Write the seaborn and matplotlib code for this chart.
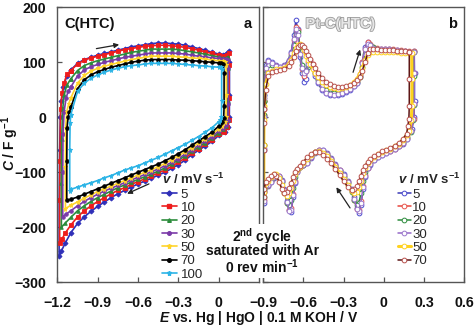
import matplotlib
matplotlib.use("Agg")
import matplotlib.pyplot as plt
import matplotlib.patheffects as pe
from matplotlib.lines import Line2D
import pandas as pd
import seaborn as sns

# ---------------- Panel a : C(HTC) ----------------
RATES_A = [5, 10, 20, 30, 50, 70, 100]
COLORS_A = ["#2f2fb8", "#ee1c1c", "#2c8c3c", "#7a3aa8", "#ffd42a", "#000000", "#2cb4e6"]
MARKERS_A = ["D", "s", "^", "o", "*", "o", "*"]

A_ANO_E = [-1.10, -1.05, -1.00, -0.95, -0.90, -0.85, -0.80, -0.75, -0.70, -0.65, -0.60, -0.55,
           -0.50, -0.45, -0.40, -0.35, -0.30, -0.25, -0.20, -0.15, -0.10, -0.05, 0.00]
A_CAT_E = A_ANO_E[::-1]

A_ANO_C = {
    5:   [86, 98, 105, 109, 113, 116, 119, 122, 125, 128, 130, 132, 134, 135, 135, 134, 133, 131, 128, 125, 122, 118, 115],
    10:  [85, 97, 104, 108, 111, 114, 117, 120, 123, 125, 127, 129, 130, 131, 131, 130, 129, 127, 125, 122, 119, 116, 113],
    20:  [70, 85, 94, 99, 103, 106, 109, 112, 115, 118, 120, 122, 124, 124, 124, 124, 123, 121, 119, 117, 115, 112, 110],
    30:  [55, 75, 86, 92, 96, 100, 103, 106, 109, 111, 113, 115, 117, 117, 117, 117, 116, 115, 113, 111, 110, 108, 107],
    50:  [35, 62, 76, 84, 89, 93, 96, 99, 102, 105, 107, 109, 111, 111, 111, 111, 110, 109, 108, 107, 106, 104, 103],
    70:  [18, 52, 68, 77, 83, 87, 91, 94, 97, 100, 102, 104, 105, 105, 105, 105, 104, 104, 103, 102, 101, 100, 99],
    100: [5, 47, 62, 71, 77, 82, 86, 89, 92, 94, 95, 97, 98, 98, 98, 98, 97, 96, 95, 94, 93, 92, 91],
}
A_CAT_C = {
    5:   [-33, -44, -52, -60, -68, -78, -86, -93, -100, -105, -111, -116, -121, -127, -133, -139, -146, -154, -162, -171, -181, -193, -210],
    10:  [-30, -41, -49, -57, -65, -74, -82, -89, -96, -101, -107, -112, -117, -122, -128, -133, -139, -146, -153, -161, -170, -181, -196],
    20:  [-28, -38, -46, -54, -62, -70, -78, -85, -92, -98, -103, -108, -113, -118, -123, -128, -134, -140, -146, -153, -161, -170, -182],
    30:  [-25, -35, -43, -51, -59, -67, -75, -82, -88, -94, -99, -104, -109, -114, -119, -124, -129, -134, -140, -146, -153, -161, -170],
    50:  [-21, -31, -39, -47, -55, -63, -70, -77, -84, -90, -95, -100, -105, -110, -115, -120, -125, -130, -135, -141, -147, -154, -160],
    70:  [-16, -27, -35, -43, -51, -59, -66, -73, -79, -85, -90, -95, -100, -105, -110, -115, -120, -125, -130, -135, -140, -145, -149],
    100: [-8, -19, -27, -35, -42, -49, -55, -61, -67, -73, -78, -83, -88, -92, -96, -101, -106, -110, -115, -119, -123, -127, -131],
}
# right turn (top corner, vertical, start of cathodic scan)
A_RIGHT_E = {
    5:   [0.03, 0.06, 0.075, 0.08, 0.08, 0.079, 0.07, 0.05],
    10:  [0.03, 0.06, 0.075, 0.078, 0.078, 0.076, 0.065, 0.04],
    20:  [0.03, 0.055, 0.068, 0.07, 0.07, 0.066, 0.055, 0.03],
    30:  [0.03, 0.055, 0.07, 0.072, 0.072, 0.068, 0.055, 0.03],
    50:  [0.03, 0.05, 0.055, 0.056, 0.054, 0.045, 0.025],
    70:  [0.02, 0.035, 0.04, 0.04, 0.037, 0.025, 0.01],
    100: [0.015, 0.022, 0.022, 0.02, 0.012],
}
A_RIGHT_C = {
    5:   [114, 117, 121, 100, 40, 0, -18, -26],
    10:  [112, 113, 116, 95, 35, -5, -18, -26],
    20:  [108, 108, 110, 90, 30, -5, -15, -22],
    30:  [106, 106, 105, 90, 25, -5, -14, -20],
    50:  [102, 101, 95, 40, 0, -8, -15],
    70:  [98, 97, 80, 20, -2, -8, -12],
    100: [91, 88, 30, 0, -5],
}
# left turn (end of cathodic scan, corner, vertical rise)
A_LEFT_E = {
    5:   [-1.14, -1.17, -1.187, -1.186, -1.183, -1.178, -1.17, -1.155, -1.13],
    10:  [-1.14, -1.165, -1.183, -1.183, -1.181, -1.176, -1.165, -1.15, -1.13],
    20:  [-1.14, -1.17, -1.17, -1.168, -1.16, -1.15, -1.13],
    30:  [-1.135, -1.16, -1.16, -1.158, -1.15, -1.135, -1.12],
    50:  [-1.14, -1.14, -1.138, -1.13, -1.115],
    70:  [-1.13, -1.13, -1.128, -1.12, -1.11],
    100: [-1.108, -1.108, -1.105],
}
A_LEFT_C = {
    5:   [-228, -243, -253, -150, -60, 0, 30, 55, 75],
    10:  [-210, -221, -229, -150, -80, 15, 45, 62, 78],
    20:  [-192, -200, -120, -40, 15, 40, 58],
    30:  [-176, -181, -100, -30, 10, 35, 47],
    50:  [-166, -90, -20, 10, 25],
    70:  [-151, -80, -20, 0, 10],
    100: [-134, -60, -10],
}

# ---------------- Panel b : Pt-C(HTC) ----------------
RATES_B = [5, 10, 20, 30, 50, 70]
COLORS_B = ["#3a3ab8", "#e8453c", "#2c8c3c", "#9468c8", "#ffd21f", "#5e1616"]
EDGES_B = ["#4a4ad0", "#e8554c", "#2c8c3c", "#9a78cc", "#ffd21f", "#b8504c"]

B_ANO_E = [-0.89, -0.88, -0.86, -0.83, -0.80, -0.77, -0.74, -0.71, -0.69, -0.67, -0.655, -0.64,
           -0.625, -0.61, -0.595, -0.58, -0.565, -0.55, -0.53, -0.51, -0.49, -0.46, -0.43, -0.40,
           -0.37, -0.34, -0.31, -0.28, -0.25, -0.22, -0.20, -0.18, -0.16, -0.14, -0.12, -0.10,
           -0.08, -0.05, -0.02, 0.01, 0.04, 0.07, 0.10, 0.13, 0.16, 0.19]
B_ANO_C = {
    5:  [40, 95, 105, 100, 95, 92, 95, 105, 118, 150, 176, 160, 110, 80, 65, 70, 92, 98, 90, 75, 62, 50, 44,
         41, 40, 41, 43, 46, 50, 56, 62, 75, 100, 128, 136, 130, 126, 124, 124, 124, 124, 123, 122, 121, 120, 119],
    10: [30, 85, 100, 97, 93, 90, 93, 102, 115, 140, 165, 158, 120, 88, 75, 85, 100, 104, 96, 82, 70, 58, 51,
         48, 47, 47, 49, 51, 54, 60, 66, 78, 100, 125, 137, 133, 128, 126, 125, 125, 125, 124, 123, 122, 121, 120],
    20: [30, 80, 95, 95, 92, 90, 92, 100, 112, 132, 152, 155, 128, 95, 82, 86, 95, 98, 92, 80, 68, 56, 49,
         45, 44, 45, 47, 50, 54, 59, 64, 74, 92, 115, 130, 132, 127, 124, 123, 123, 123, 122, 121, 120, 119, 118],
    30: [35, 90, 103, 98, 94, 91, 93, 103, 116, 142, 160, 150, 115, 90, 80, 84, 96, 100, 92, 78, 64, 52, 45,
         42, 41, 42, 44, 47, 51, 57, 63, 76, 98, 124, 134, 131, 126, 124, 124, 124, 124, 123, 122, 121, 120, 119],
    50: [20, 60, 80, 85, 87, 88, 90, 96, 104, 116, 126, 132, 134, 130, 122, 112, 104, 97, 88, 80, 73, 65, 59,
         55, 53, 52, 53, 55, 58, 64, 70, 78, 90, 104, 114, 118, 119, 119, 119, 119, 119, 118, 118, 117, 117, 116],
    70: [15, 50, 75, 82, 85, 86, 88, 93, 100, 110, 120, 127, 131, 132, 128, 121, 113, 106, 97, 89, 81, 72, 65,
         60, 57, 55, 55, 56, 58, 62, 67, 74, 85, 100, 116, 124, 125, 124, 123, 123, 122, 122, 121, 120, 120, 119],
}
B_CAT_E = [0.17, 0.14, 0.11, 0.08, 0.05, 0.02, -0.01, -0.04, -0.07, -0.10, -0.12, -0.14, -0.155, -0.17,
           -0.185, -0.20, -0.22, -0.24, -0.27, -0.30, -0.33, -0.36, -0.39, -0.42, -0.45, -0.48, -0.51,
           -0.54, -0.57, -0.60, -0.625, -0.645, -0.66, -0.675, -0.69, -0.705, -0.72, -0.74, -0.76, -0.78,
           -0.80, -0.82, -0.84, -0.86, -0.88]
B_CAT_C = {
    5:  [-40, -48, -53, -58, -62, -65, -68, -72, -78, -86, -93, -108, -130, -160, -174, -165, -145, -130, -116,
         -104, -95, -85, -74, -65, -59, -59, -65, -74, -84, -86, -90, -100, -120, -145, -172, -168, -152, -130,
         -114, -106, -105, -110, -118, -125, -124],
    10: [-38, -46, -52, -57, -61, -64, -67, -71, -76, -84, -92, -105, -125, -152, -168, -166, -150, -134, -118,
         -106, -96, -86, -76, -67, -61, -60, -64, -72, -82, -86, -90, -98, -115, -140, -165, -168, -155, -133,
         -116, -107, -105, -108, -116, -123, -125],
    20: [-36, -45, -51, -56, -60, -63, -66, -70, -75, -82, -89, -100, -115, -138, -155, -160, -150, -136, -120,
         -108, -98, -88, -78, -69, -63, -61, -64, -71, -80, -86, -90, -96, -108, -128, -150, -160, -155, -136,
         -118, -108, -105, -107, -114, -121, -125],
    30: [-39, -47, -53, -57, -61, -65, -68, -72, -77, -85, -92, -106, -127, -155, -171, -167, -148, -132, -117,
         -105, -96, -86, -75, -66, -60, -59, -64, -73, -83, -86, -90, -99, -118, -142, -168, -170, -154, -132,
         -115, -106, -105, -109, -117, -124, -124],
    50: [-33, -42, -48, -53, -57, -60, -63, -67, -72, -78, -84, -92, -102, -115, -127, -135, -138, -134, -124,
         -112, -101, -90, -80, -71, -65, -62, -63, -68, -76, -84, -90, -96, -104, -115, -128, -138, -144, -138,
         -124, -111, -104, -103, -108, -115, -120],
    70: [-30, -40, -47, -52, -56, -59, -62, -66, -70, -76, -81, -88, -96, -106, -116, -125, -131, -132, -126,
         -116, -105, -94, -84, -75, -68, -64, -63, -66, -73, -81, -88, -94, -100, -109, -119, -129, -136, -138,
         -130, -117, -107, -103, -106, -112, -118],
}
B_RIGHT_E = {
    5:  [0.227, 0.229, 0.229, 0.224, 0.21],
    10: [0.225, 0.227, 0.227, 0.222, 0.205],
    20: [0.222, 0.224, 0.224, 0.218, 0.20],
    30: [0.225, 0.227, 0.227, 0.221, 0.205],
    50: [0.208, 0.21, 0.21, 0.205, 0.19],
    70: [0.19, 0.19, 0.19, 0.187, 0.18],
}
B_RIGHT_C = {
    5:  [120, 80, 30, 0, -22],
    10: [120, 80, 25, -3, -25],
    20: [118, 75, 22, -5, -27],
    30: [119, 80, 25, -3, -25],
    50: [116, 70, 20, -5, -25],
    70: [119, 70, 20, -3, -15],
}
B_LEFT_E = {
    5:  [-0.89, -0.892, -0.892, -0.891],
    10: [-0.89, -0.893, -0.893, -0.892],
    20: [-0.89, -0.892, -0.892, -0.891],
    30: [-0.89, -0.892, -0.892, -0.891],
    50: [-0.89, -0.894, -0.894, -0.893],
    70: [-0.892, -0.896, -0.896, -0.895],
}
B_LEFT_C = {
    5:  [-135, -155, -60, 0],
    10: [-135, -150, -50, 5],
    20: [-133, -145, -50, 5],
    30: [-134, -152, -55, 0],
    50: [-128, -135, -50, -5],
    70: [-130, -145, -60, -10],
}

X_TICKS_A = [-1.2, -0.9, -0.6, -0.3, 0.0]
X_TICKS_B = [-0.9, -0.6, -0.3, 0.0, 0.3, 0.6]
Y_TICKS = [-300, -200, -100, 0, 100, 200]


def build_loop(ano_e, ano_c, right_e, right_c, cat_e, cat_c, left_e, left_c):
    e = list(ano_e) + list(right_e) + list(cat_e) + list(left_e) + [ano_e[0]]
    c = list(ano_c) + list(right_c) + list(cat_c) + list(left_c) + [ano_c[0]]
    return pd.DataFrame({"E": e, "C": c})


sns.set_theme(style="white")
plt.rcParams["font.family"] = ["Liberation Sans", "DejaVu Sans"]
plt.rcParams["mathtext.fontset"] = "custom"
plt.rcParams["mathtext.rm"] = "Liberation Sans:bold"
plt.rcParams["mathtext.it"] = "Liberation Sans:italic:bold"
plt.rcParams["mathtext.bf"] = "Liberation Sans:bold"
plt.rcParams["axes.unicode_minus"] = True

fig = plt.figure(figsize=(4.74, 3.27), dpi=100)
ax_a = fig.add_axes([0.121, 0.1367, 0.4255, 0.841])
ax_b = fig.add_axes([0.5549, 0.1367, 0.4246, 0.841])

spine_col = "#555555"
TICK_FS = 10.2

# panel a
handles_a = []
for r, col, mk in zip(RATES_A, COLORS_A, MARKERS_A):
    df = build_loop(A_ANO_E, A_ANO_C[r], A_RIGHT_E[r], A_RIGHT_C[r],
                    A_CAT_E, A_CAT_C[r], A_LEFT_E[r], A_LEFT_C[r])
    ms = 3.6 if mk == "*" else 2.6
    sns.lineplot(data=df, x="E", y="C", sort=False, estimator=None, ax=ax_a,
                 color=col, lw=1.2, marker=mk, markersize=ms,
                 markeredgecolor=col, markerfacecolor=col, markeredgewidth=0.6,
                 legend=False)
    handles_a.append(Line2D([], [], color=col, lw=1.2, marker=mk, markersize=ms,
                            markeredgecolor=col, markerfacecolor=col))

# panel b
handles_b = []
for r, col, ecol in zip(RATES_B, COLORS_B, EDGES_B):
    df = build_loop(B_ANO_E, B_ANO_C[r], B_RIGHT_E[r], B_RIGHT_C[r],
                    B_CAT_E, B_CAT_C[r], B_LEFT_E[r], B_LEFT_C[r])
    lw = 2.2 if r == 50 else 1.1
    sns.lineplot(data=df, x="E", y="C", sort=False, estimator=None, ax=ax_b,
                 color=col, lw=lw, marker="o", markersize=3.4,
                 markeredgecolor=ecol, markerfacecolor="white", markeredgewidth=0.7,
                 legend=False)
    handles_b.append(Line2D([], [], color=col, lw=lw, marker="o", markersize=3.4,
                            markeredgecolor=ecol, markerfacecolor="white", markeredgewidth=0.7))

for ax in (ax_a, ax_b):
    ax.set_ylim(-300, 200)
    ax.set_yticks(Y_TICKS)
    ax.set_xlabel("")
    ax.set_ylabel("")
    for s in ax.spines.values():
        s.set_color(spine_col)
        s.set_linewidth(1.0)
    ax.tick_params(direction="in", length=3.5, width=0.9, color=spine_col,
                   labelsize=TICK_FS, left=True, bottom=True, labelcolor="#111111")
    ax.tick_params(axis="x", pad=10)
    ax.tick_params(axis="y", pad=8)

ax_a.set_xlim(-1.2, 0.3)
ax_a.set_xticks(X_TICKS_A)
ax_a.set_xticklabels(["\u22121.2", "\u22120.9", "\u22120.6", "\u22120.3", "0"], fontweight="bold")
ax_a.set_yticklabels(["\u2212300", "\u2212200", "\u2212100", "0", "100", "200"], fontweight="bold")

ax_b.set_xlim(-0.9, 0.6)
ax_b.set_xticks(X_TICKS_B)
ax_b.set_xticklabels(["\u22120.9", "\u22120.6", "\u22120.3", "0", "0.3", "0.6"], fontweight="bold")
ax_b.set_yticklabels([])

# arrows
arrow_kw = dict(arrowstyle="-|>", color="#222222", lw=0.9, mutation_scale=7)
ax_a.annotate("", xy=(-0.72, 133), xytext=(-0.93, 124), arrowprops=arrow_kw)
ax_a.annotate("", xy=(-0.70, -141), xytext=(-0.50, -119), arrowprops=arrow_kw)
ax_b.annotate("", xy=(-0.17, 128), xytext=(-0.235, 77), arrowprops=arrow_kw)
ax_b.annotate("", xy=(-0.365, -123), xytext=(-0.24, -169), arrowprops=arrow_kw)

# panel labels
ax_a.text(0.035, 0.965, "C(HTC)", transform=ax_a.transAxes, fontsize=10.5,
          fontweight="bold", ha="left", va="top", color="#111111")
ax_a.text(0.965, 0.965, "a", transform=ax_a.transAxes, fontsize=10.5,
          fontweight="bold", ha="right", va="top", color="#111111")
ax_b.text(0.965, 0.965, "b", transform=ax_b.transAxes, fontsize=10.5,
          fontweight="bold", ha="right", va="top", color="#111111")
ax_b.text(0.385, 0.965, "Pt-C(HTC)", transform=ax_b.transAxes, fontsize=10.5,
          fontweight="bold", ha="center", va="top", color="#e6e6e6",
          path_effects=[pe.withStroke(linewidth=1.2, foreground="#9a9a9a")])

# legends
leg_a = ax_a.legend(handles_a, [str(r) for r in RATES_A],
                    title=r"$v$ / mV s$^{-1}$", loc="upper left",
                    bbox_to_anchor=(0.52, 0.40), frameon=False, fontsize=9.5,
                    handlelength=1.1, handletextpad=0.3, labelspacing=0.08,
                    borderpad=0.0, borderaxespad=0.0)
leg_a.get_title().set_fontweight("bold")
leg_a.get_title().set_fontsize(9.5)
leg_a._legend_box.align = "left"

leg_b = ax_b.legend(handles_b, [str(r) for r in RATES_B],
                    title=r"$v$ / mV s$^{-1}$", loc="upper left",
                    bbox_to_anchor=(0.67, 0.40), frameon=False, fontsize=9.5,
                    handlelength=1.0, handletextpad=0.1, labelspacing=0.08,
                    borderpad=0.0, borderaxespad=0.0)
leg_b.get_title().set_fontweight("bold")
leg_b.get_title().set_fontsize(9.5)
leg_b._legend_box.align = "left"

# centre note (three lines, white background hiding the spines)
note_kw = dict(ha="center", va="center", fontsize=10, fontweight="bold", color="#111111",
               zorder=10, bbox=dict(boxstyle="square,pad=0.12", fc="white", ec="none"))
fig.text(0.553, 0.278, "2$^{\\rm nd}$ cycle", **note_kw)
fig.text(0.553, 0.231, "saturated with Ar", **note_kw)
fig.text(0.553, 0.183, "0 rev min$^{-1}$", **note_kw)

# axis labels
fig.text(0.545, 0.028, r"$E$ vs. Hg | HgO | 0.1 M KOH / V", ha="center", va="center",
         fontsize=10, fontweight="bold", color="#111111")
fig.text(0.022, 0.563, r"$C$ / F g$^{-1}$", ha="center", va="center", rotation=90,
         fontsize=10, fontweight="bold", color="#111111")

fig.savefig("out.png", dpi=100)
